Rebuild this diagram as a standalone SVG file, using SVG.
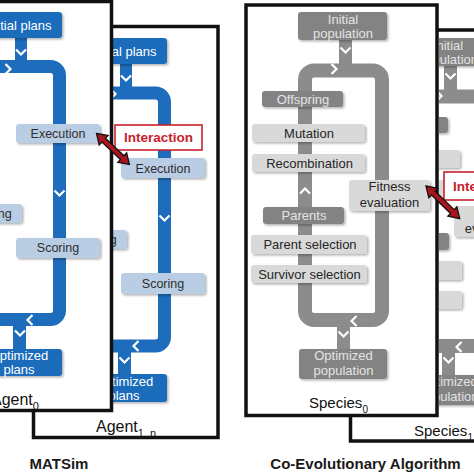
<svg xmlns="http://www.w3.org/2000/svg" xmlns:xlink="http://www.w3.org/1999/xlink" width="474" height="474" viewBox="0 0 474 474">
<style>
.frame{fill:#fff;stroke:#111;stroke-width:3.5}
.bl{fill:#1e6cbc;filter:url(#sh)}
.lb{fill:#b9cde4;filter:url(#sh)}
.dg{fill:#838383;filter:url(#sh)}
.lg{fill:#d9d9d9;filter:url(#sh)}
.bloop{fill:none;stroke:#1e6cbc;stroke-width:13}
.gloop{fill:none;stroke:#8c8c8c;stroke-width:14}
.bstem{fill:#1e6cbc}
.gstem{fill:#8c8c8c}
.chev{fill:none;stroke:#fff;stroke-width:2.2}
text{font-family:"Liberation Sans",Arial,sans-serif}
.tw{fill:#fff;font-size:13px;text-anchor:middle}
.td{fill:#2e2e2e;font-size:12.5px;text-anchor:middle}
.tgl{fill:#e4e4e4;font-size:13px;text-anchor:middle}
.tgd{fill:#262626;font-size:13px;text-anchor:middle}
.ibox{fill:#fff;stroke:#c8202c;stroke-width:1.6}
.itext{fill:#c8202c;font-weight:bold;font-size:13.5px;text-anchor:middle}
.arrow{fill:#a8151c;stroke:#111;stroke-width:1.3}
.lbl{fill:#111;font-size:16px}
.lbl2{fill:#111;font-size:15px}
.title{fill:#1a1a1a;font-weight:bold;font-size:15px;text-anchor:middle}
</style>
<defs>
<filter id="sh" x="-10%" y="-20%" width="130%" height="160%">
<feDropShadow dx="1.5" dy="1.5" stdDeviation="1" flood-color="#000" flood-opacity="0.3"/>
</filter>
<clipPath id="clipL"><path d="M113,0 H474 V474 H113 Z M0,412 H113 V474 H0 Z"/></clipPath>
<clipPath id="clipR"><path d="M439,0 H474 V474 H439 Z M0,417 H439 V474 H0 Z"/></clipPath>
<path id="chev" class="chev" d="M-5,-2.5 L0,2.5 L5,-2.5"/>
<path id="dbl" class="arrow" d="M0,0 L10,-6.5 L10,-2.6 L36,-2.6 L36,-6.5 L46,0 L36,6.5 L36,2.6 L10,2.6 L10,6.5 Z"/>
</defs>

<!-- ============ MATSim, back agent ============ -->
<g id="agent-back-frame"><rect class="frame" x="33.5" y="26.5" width="184.5" height="411"/></g>
<g clip-path="url(#clipL)">
<g id="agent-back-connectors">
<rect class="bloop" x="85" y="93" width="79.5" height="253" rx="9"/>
<rect class="bstem" x="120" y="63" width="12" height="28"/>
<rect class="bstem" x="118" y="350" width="13" height="25"/>
<use href="#chev" transform="translate(126,78)"/>
<use href="#chev" transform="translate(113,94) rotate(-90)"/>
<use href="#chev" transform="translate(164.5,218)"/>
<use href="#chev" transform="translate(136,346) rotate(90)"/>
<use href="#chev" transform="translate(124.5,360)"/>
</g>
<g id="b-initial-plans"><rect class="bl" x="81" y="38" width="86" height="26" rx="3"/><text class="tw" x="124" y="56">Initial plans</text></g>
<g id="b-execution"><rect class="lb" x="121" y="158" width="84" height="20" rx="3"/><text class="td" x="163" y="172.5">Execution</text></g>
<g id="b-replanning"><rect class="lb" x="43" y="230" width="84" height="19" rx="3"/><text class="td" x="85" y="244">Replanning</text></g>
<g id="b-scoring"><rect class="lb" x="121" y="273" width="84" height="21" rx="3"/><text class="td" x="163" y="288">Scoring</text></g>
<g id="b-optimized-plans"><rect class="bl" x="81" y="374" width="86" height="28" rx="3"/><text class="tw" x="124" y="386">Optimized</text><text class="tw" x="124" y="400">plans</text></g>
</g>
<g id="agent-back-label"><text class="lbl" x="96" y="432">Agent<tspan font-size="11" dy="5">1..n</tspan></text></g>

<!-- ============ MATSim, front agent ============ -->
<g id="agent-front-frame"><rect class="frame" x="-10" y="1.5" width="121.5" height="409"/></g>
<g id="agent-front-connectors">
<rect class="bloop" x="-20" y="66.5" width="79.5" height="253" rx="9"/>
<rect class="bstem" x="15" y="37" width="12" height="25"/>
<rect class="bstem" x="13" y="324" width="13" height="26"/>
<use href="#chev" transform="translate(21,52)"/>
<use href="#chev" transform="translate(8,69) rotate(-90)"/>
<use href="#chev" transform="translate(59.5,193)"/>
<use href="#chev" transform="translate(30,320) rotate(90)"/>
<use href="#chev" transform="translate(20,333)"/>
</g>
<g id="f-initial-plans"><rect class="bl" x="-24" y="12" width="86" height="26" rx="3"/><text class="tw" x="19" y="29.5">Initial plans</text></g>
<g id="f-execution"><rect class="lb" x="16" y="124" width="84" height="19" rx="3"/><text class="td" x="58" y="138">Execution</text></g>
<g id="f-replanning"><rect class="lb" x="-62" y="204" width="84" height="19" rx="3"/><text class="td" x="-20" y="218">Replanning</text></g>
<g id="f-scoring"><rect class="lb" x="16" y="238" width="84" height="20" rx="3"/><text class="td" x="58" y="252">Scoring</text></g>
<g id="f-optimized-plans"><rect class="bl" x="-24" y="349" width="86" height="27" rx="3"/><text class="tw" x="19" y="360">Optimized</text><text class="tw" x="19" y="374">plans</text></g>
<g id="agent-front-label"><text class="lbl" x="-9" y="405">Agent<tspan font-size="11" dy="5">0</tspan></text></g>

<g id="interaction-left"><rect class="ibox" x="115" y="125" width="87" height="25"/><text class="itext" x="158.5" y="142">Interaction</text></g>
<g id="interaction-arrow-left-group"><use href="#dbl" transform="translate(96.5,133.5) rotate(43.2) scale(0.98,1)"/></g>

<!-- ============ Co-Evolutionary, back species ============ -->
<g id="species-back-frame"><rect class="frame" x="350.5" y="30" width="150" height="411"/></g>
<g clip-path="url(#clipR)">
<g id="species-back-connectors">
<rect class="gloop" x="410" y="96.5" width="77" height="249.5" rx="9"/>
<rect class="gstem" x="444" y="65" width="13" height="26"/>
<rect class="gstem" x="442" y="352" width="13" height="24"/>
<use href="#chev" transform="translate(450.5,76)"/>
<use href="#chev" transform="translate(439,96) rotate(-90)"/>
<use href="#chev" transform="translate(459,347) rotate(90)"/>
<use href="#chev" transform="translate(448.5,360)"/>
</g>
<g id="b-initial-population"><rect class="dg" x="403" y="38" width="89" height="28" rx="3"/><text class="tgl" x="448" y="50">Initial</text><text class="tgl" x="448" y="64">population</text></g>
<g id="b-offspring"><rect class="dg" x="367" y="117" width="81" height="16" rx="3"/></g>
<g id="b-mutation"><rect class="lg" x="338" y="150" width="122" height="18" rx="3"/></g>
<g id="b-recombination"><rect class="lg" x="338" y="180" width="122" height="18" rx="3"/></g>
<g id="b-parents"><rect class="dg" x="368" y="233" width="81" height="17" rx="3"/></g>
<g id="b-parent-selection"><rect class="lg" x="338" y="261" width="124" height="19" rx="3"/></g>
<g id="b-survivor-selection"><rect class="lg" x="338" y="291" width="124" height="18" rx="3"/></g>
<g id="b-fitness-evaluation"><rect class="lg" x="454" y="206" width="81" height="31" rx="3"/><text class="tgd" x="494.5" y="216">Fitness</text><text class="tgd" x="494.5" y="233">evaluation</text></g>
<g id="b-optimized-population"><rect class="dg" x="404" y="375" width="88" height="30" rx="3"/><text class="tgl" x="448.5" y="386">Optimized</text><text class="tgl" x="448.5" y="401">population</text></g>
</g>
<g id="species-back-label"><text class="lbl2" x="414" y="435.5">Species<tspan font-size="10" dy="5">1</tspan></text></g>

<!-- ============ Co-Evolutionary, front species ============ -->
<g id="species-front-frame"><rect class="frame" x="246" y="5" width="191" height="410.5"/></g>
<g id="species-front-connectors">
<rect class="gloop" x="305" y="70.5" width="77" height="249.5" rx="9"/>
<rect class="gstem" x="339" y="39" width="13" height="26"/>
<rect class="gstem" x="337" y="326" width="13" height="24"/>
<use href="#chev" transform="translate(345.5,50)"/>
<use href="#chev" transform="translate(334,69) rotate(-90)"/>
<use href="#chev" transform="translate(305,191) rotate(180)"/>
<use href="#chev" transform="translate(354,321) rotate(90)"/>
<use href="#chev" transform="translate(343.5,334)"/>
</g>
<g id="f-initial-population"><rect class="dg" x="298" y="12" width="89" height="28" rx="3"/><text class="tgl" x="343" y="24">Initial</text><text class="tgl" x="343" y="38">population</text></g>
<g id="f-offspring"><rect class="dg" x="262" y="91" width="81" height="16" rx="3"/><text class="tgl" x="303" y="103.5">Offspring</text></g>
<g id="f-mutation"><rect class="lg" x="252" y="124" width="113" height="18" rx="3"/><text class="tgd" x="309" y="137.5">Mutation</text></g>
<g id="f-recombination"><rect class="lg" x="252" y="154" width="113" height="18" rx="3"/><text class="tgd" x="309.5" y="167.5">Recombination</text></g>
<g id="f-parents"><rect class="dg" x="263" y="207" width="81" height="17" rx="3"/><text class="tgl" x="304" y="220">Parents</text></g>
<g id="f-fitness-evaluation"><rect class="lg" x="349" y="180" width="81" height="31" rx="3"/><text class="tgd" x="389.5" y="190.5">Fitness</text><text class="tgd" x="389.5" y="206.5">evaluation</text></g>
<g id="f-parent-selection"><rect class="lg" x="251" y="235" width="116" height="19" rx="3"/><text class="tgd" x="310" y="249">Parent selection</text></g>
<g id="f-survivor-selection"><rect class="lg" x="251" y="265" width="116" height="18" rx="3"/><text class="tgd" x="309.5" y="278.5">Survivor selection</text></g>
<g id="f-optimized-population"><rect class="dg" x="299" y="349" width="88" height="30" rx="3"/><text class="tgl" x="343.5" y="360">Optimized</text><text class="tgl" x="343.5" y="375">population</text></g>
<g id="species-front-label"><text class="lbl2" x="309" y="408">Species<tspan font-size="10" dy="5">0</tspan></text></g>

<g id="interaction-right"><rect class="ibox" x="444" y="172" width="87" height="28"/><text class="itext" x="487.5" y="191">Interaction</text></g>
<g id="interaction-arrow-right-group"><use href="#dbl" transform="translate(426,186) rotate(44.1) scale(1.02,1)"/></g>

<g id="titles">
<text class="title" x="59" y="469">MATSim</text>
<text class="title" x="365.5" y="469">Co-Evolutionary Algorithm</text>
</g>
</svg>
